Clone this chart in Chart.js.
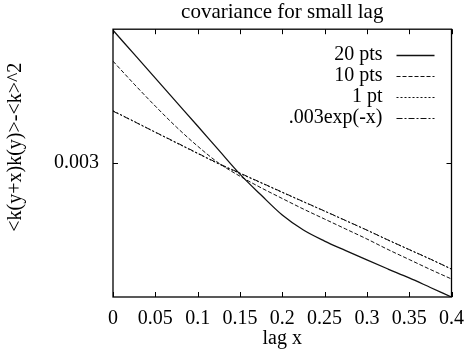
<!DOCTYPE html>
<html><head><meta charset="utf-8">
<script src="https://cdn.jsdelivr.net/npm/chart.js@4/dist/chart.umd.min.js"></script>
<style>html,body{margin:0;padding:0;background:#fff;}#wrap{width:474px;height:351px;}</style>
</head><body><div id="wrap"><canvas id="c" width="474" height="351"></canvas></div>
<script>
// lag values (x)
const lagX = [0,0.025,0.05,0.075,0.1,0.125,0.15,0.175,0.2,0.225,0.25,0.275,0.3,0.325,0.35,0.375,0.4];
// series values
const pts20 = [0.003893,0.003732,0.003571,0.003410,0.003249,0.003087,0.002926,0.002785,0.002651,0.002550,0.002476,0.002412,0.002349,0.002288,0.002228,0.002164,0.002100];
const pts10 = [0.003685,0.003531,0.003383,0.003242,0.003114,0.003000,0.002912,0.002834,0.002762,0.002691,0.002624,0.002557,0.002490,0.002419,0.002352,0.002285,0.002221];
const pt1   = [0.003352,0.003280,0.003207,0.003135,0.003064,0.002994,0.002930,0.002867,0.002803,0.002740,0.002677,0.002613,0.002549,0.002483,0.002418,0.002354,0.002287];
const expRef= [0.003349,0.003279,0.003208,0.003138,0.003067,0.002997,0.002933,0.002869,0.002805,0.002741,0.002678,0.002614,0.002550,0.002483,0.002419,0.002355,0.002288];
const seriesNames = ['20 pts','10 pts','1 pt','.003exp(-x)'];
const xTickValues = [0,0.05,0.1,0.15,0.2,0.25,0.3,0.35,0.4];
const xTickLabels = ['0','0.05','0.1','0.15','0.2','0.25','0.3','0.35','0.4'];
const yTickValues = [0.003];
const yTickLabels = ['0.003'];
const yAxisTitle = '<k(y+x)k(y)>-<k>^2';

const FAMILY = '"Liberation Serif", "Times New Roman", serif';
const FONT = {family: FAMILY, size: 20, weight: 'normal'};
const TITLE_FONT = {family: FAMILY, size: 21, weight: 'normal'};
const toPts = arr => lagX.map((x, i) => ({x: x, y: arr[i]}));
const dashes = [[], [4, 2], [2, 2], [6, 2, 2, 2]];
const allSeries = [pts20, pts10, pt1, expRef];

const labelFor = (vals, labs) => v => {
  const i = vals.findIndex(t => Math.abs(t - v) < 1e-9);
  return i >= 0 ? labs[i] : '';
};

const framePlugin = {
  id: 'frame',
  afterDraw(chart) {
    const {ctx, chartArea: a, scales} = chart;
    ctx.save();
    ctx.strokeStyle = '#000';
    ctx.lineWidth = 1.3;
    ctx.strokeRect(a.left, a.top, a.right - a.left, a.bottom - a.top);
    ctx.lineWidth = 1;
    ctx.beginPath();
    const tl = 5;
    xTickValues.forEach(v => {
      const p = Math.round(scales.x.getPixelForValue(v)) + 0.5;
      ctx.moveTo(p, a.bottom); ctx.lineTo(p, a.bottom - tl);
      ctx.moveTo(p, a.top); ctx.lineTo(p, a.top + tl);
    });
    yTickValues.forEach(v => {
      const p = Math.round(scales.y.getPixelForValue(v)) + 0.5;
      ctx.moveTo(a.left, p); ctx.lineTo(a.left + tl, p);
      ctx.moveTo(a.right, p); ctx.lineTo(a.right - tl, p);
    });
    ctx.stroke();
    // y axis title
    ctx.font = FONT.size + 'px ' + FONT.family;
    ctx.fillStyle = '#000';
    ctx.save();
    ctx.translate(16, a.top + 118);
    ctx.rotate(-Math.PI / 2);
    ctx.textAlign = 'center';
    ctx.textBaseline = 'middle';
    ctx.fillText(yAxisTitle, 0, 0);
    ctx.restore();
    // legend
    ctx.textAlign = 'right';
    ctx.textBaseline = 'middle';
    chart.data.datasets.forEach((ds, i) => {
      const y = a.top + 26 + i * 21;
      ctx.fillText(ds.label, a.right - 69, y);
      ctx.save();
      ctx.strokeStyle = ds.borderColor;
      ctx.lineWidth = ds.borderWidth;
      ctx.setLineDash(ds.borderDash || []);
      ctx.beginPath();
      ctx.moveTo(a.right - 55, Math.round(y) + 0.5);
      ctx.lineTo(a.right - 17, Math.round(y) + 0.5);
      ctx.stroke();
      ctx.restore();
    });
    ctx.restore();
  }
};

new Chart(document.getElementById('c'), {
  type: 'line',
  data: {
    datasets: allSeries.map((arr, i) => ({
      label: seriesNames[i],
      data: toPts(arr),
      borderColor: '#111',
      borderWidth: i === 0 ? 1.3 : 1,
      borderDash: dashes[i],
      pointRadius: 0,
      fill: false,
      cubicInterpolationMode: 'monotone'
    }))
  },
  options: {
    responsive: false,
    devicePixelRatio: 1,
    animation: false,
    layout: {padding: {left: 0, right: 12, top: 0, bottom: 0}},
    plugins: {
      legend: {display: false},
      tooltip: {enabled: false},
      title: {display: true, fullSize: false, text: 'covariance for small lag', color: '#000', font: TITLE_FONT, padding: {top: 0, bottom: 4}}
    },
    scales: {
      x: {
        type: 'linear', min: 0, max: 0.4, position: 'bottom',
        grid: {display: false, drawTicks: false},
        border: {display: false},
        afterBuildTicks: s => { s.ticks = xTickValues.map(v => ({value: v})); },
        afterFit: s => { s.height = 54; },
        ticks: {autoSkip: false, maxRotation: 0, color: '#000', font: FONT, padding: 10,
                callback: labelFor(xTickValues, xTickLabels)},
        title: {display: true, text: 'lag x', color: '#000', font: FONT, padding: {top: 1, bottom: 0}}
      },
      y: {
        type: 'linear', min: 0.0021, max: 0.0039, position: 'left',
        grid: {display: false, drawTicks: false},
        border: {display: false},
        afterBuildTicks: s => { s.ticks = yTickValues.map(v => ({value: v})); },
        afterFit: s => { s.width = 113; },
        ticks: {color: '#000', font: FONT, padding: 14, callback: labelFor(yTickValues, yTickLabels)},
        title: {display: false}
      }
    }
  },
  plugins: [framePlugin]
});
</script></body></html>
